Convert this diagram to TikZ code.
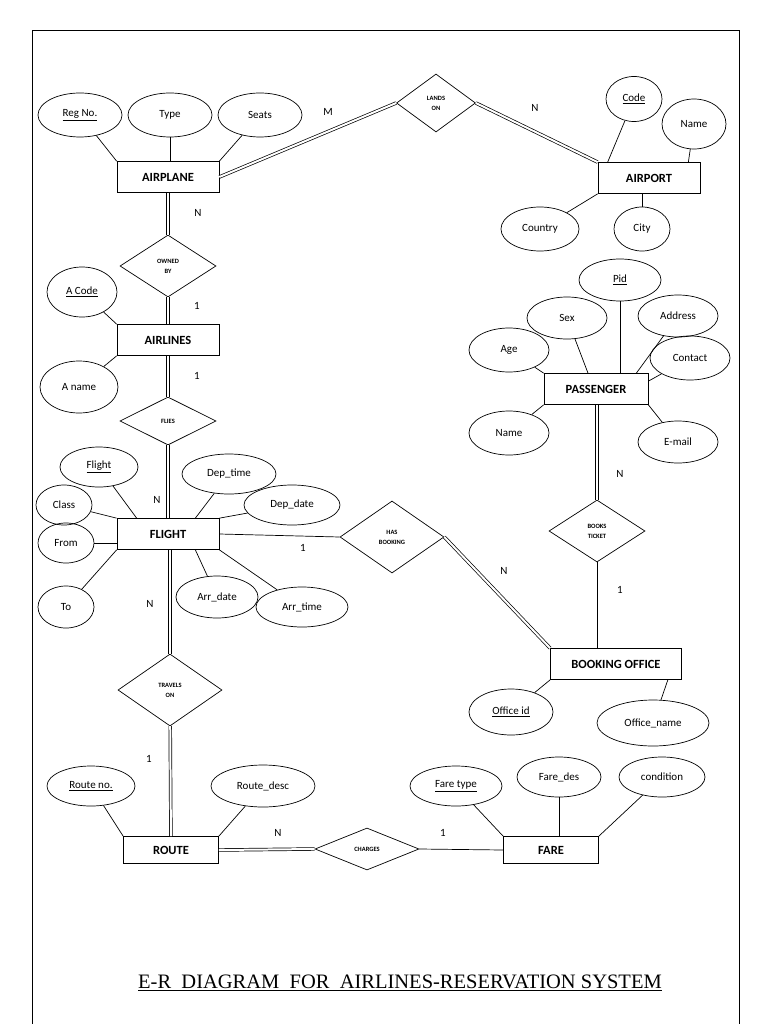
\documentclass[tikz,border=0pt]{standalone}
\usepackage{fontspec}
\setmainfont{Carlito}
\newfontfamily\titlefont{Liberation Serif}
\usetikzlibrary{shapes.geometric}
\tikzset{
 ent/.style={draw,rectangle,minimum width=#1,minimum height=31pt,inner sep=0,font=\bfseries\fontsize{12.5}{14}\selectfont},
 ent/.default=102pt,
 att/.style={draw,ellipse,inner sep=0,font=\fontsize{11}{12}\selectfont},
 rel/.style={draw,diamond,inner sep=0,align=center,font=\bfseries\fontsize{6.5}{10}\selectfont},
 dbl/.style={double,double distance=2pt},
 card/.style={font=\fontsize{11}{12}\selectfont}
}
\begin{document}
\begin{tikzpicture}[x=1pt,y=-1pt,line width=0.7pt]
\useasboundingbox (0,0) rectangle (768,1024);
\draw (32,1024) -- (32,30) -- (739,30) -- (739,1024);
% entities
\node[ent] (airplane) at (168,177) {AIRPLANE};
\node[ent] (airport) at (649,178) {AIRPORT};
\node[ent] (airlines) at (168,340) {AIRLINES};
\node[ent] (flight) at (168,534) {FLIGHT};
\node[ent=104pt] (passenger) at (596,389) {PASSENGER};
\node[ent=131pt] (office) at (616,664) {BOOKING OFFICE};
\node[ent=95pt,minimum height=27pt] (route) at (171,850) {ROUTE};
\node[ent=95pt,minimum height=27pt] (fare) at (551,850) {FARE};
% relationships
\node[rel,minimum width=79pt,minimum height=58pt] (lands) at (436,103) {LANDS\\ON};
\node[rel,minimum width=96pt,minimum height=62pt] (owned) at (168,266) {OWNED\\BY};
\node[rel,minimum width=96pt,minimum height=48pt] (flies) at (168,421) {FLIES};
\node[rel,minimum width=104pt,minimum height=72pt] (has) at (392,537) {HAS\\BOOKING};
\node[rel,minimum width=96pt,minimum height=62pt] (books) at (597,531) {BOOKS\\TICKET};
\node[rel,minimum width=104pt,minimum height=72pt] (travels) at (170,690) {TRAVELS\\ON};
\node[rel,minimum width=104pt,minimum height=42pt] (charges) at (367,849) {CHARGES};
% attributes
\node[att,minimum width=84pt,minimum height=44pt] (regno) at (80,115) {\underline{Reg No.}};
\node[att,minimum width=84pt,minimum height=44pt] (type) at (170,115) {Type};
\node[att,minimum width=84pt,minimum height=44pt] (seats) at (260,115) {Seats};
\node[att,minimum width=56pt,minimum height=45pt] (code) at (634,99) {\underline{Code}};
\node[att,minimum width=64pt,minimum height=50pt] (aname2) at (694,124) {Name};
\node[att,minimum width=78pt,minimum height=44pt] (country) at (540,229) {Country};
\node[att,minimum width=56pt,minimum height=44pt] (city) at (642,229) {City};
\node[att,minimum width=70pt,minimum height=50pt] (acode) at (82,292) {\underline{A Code}};
\node[att,minimum width=78pt,minimum height=52pt] (aname) at (79,387) {A name};
\node[att,minimum width=82pt,minimum height=42pt] (pid) at (620,280) {\underline{Pid}};
\node[att,minimum width=80pt,minimum height=42pt] (sex) at (567,318) {Sex};
\node[att,minimum width=80pt,minimum height=42pt] (address) at (678,316) {Address};
\node[att,minimum width=80pt,minimum height=44pt] (age) at (509,350) {Age};
\node[att,minimum width=80pt,minimum height=44pt] (contact) at (690,358) {Contact};
\node[att,minimum width=80pt,minimum height=44pt] (pname) at (509,433) {Name};
\node[att,minimum width=80pt,minimum height=42pt] (email) at (678,442) {E-mail};
\node[att,minimum width=78pt,minimum height=40pt] (fl) at (99,467) {\underline{Flight}};
\node[att,minimum width=94pt,minimum height=40pt] (deptime) at (229,474) {Dep\_time};
\node[att,minimum width=56pt,minimum height=40pt] (class) at (64,505) {Class};
\node[att,minimum width=96pt,minimum height=40pt] (depdate) at (292,505) {Dep\_date};
\node[att,minimum width=56pt,minimum height=40pt] (from) at (66,543) {From};
\node[att,minimum width=56pt,minimum height=42pt] (to) at (66,607) {To};
\node[att,minimum width=82pt,minimum height=42pt] (arrdate) at (217,597) {Arr\_date};
\node[att,minimum width=92pt,minimum height=40pt] (arrtime) at (302,607) {Arr\_time};
\node[att,minimum width=84pt,minimum height=46pt] (offid) at (511,712) {\underline{Office id}};
\node[att,minimum width=112pt,minimum height=46pt] (offname) at (653,723) {Office\_name};
\node[att,minimum width=88pt,minimum height=40pt] (routeno) at (91,786) {\underline{Route no.}};
\node[att,minimum width=104pt,minimum height=42pt] (routedesc) at (263,786) {Route\_desc};
\node[att,minimum width=92pt,minimum height=40pt] (faretype) at (456,786) {\underline{Fare type}};
\node[att,minimum width=84pt,minimum height=40pt] (faredes) at (559,777) {Fare\_des};
\node[att,minimum width=86pt,minimum height=40pt] (cond) at (662,777) {condition};
% attribute lines
\draw (regno) -- (airplane.north west);
\draw (type) -- (type|-airplane.north);
\draw (seats) -- (airplane.north east);
\draw (code) -- ([xshift=10pt]airport.north west);
\draw (aname2) -- ([xshift=-12pt]airport.north east);
\draw (country) -- (airport.south west);
\draw (city) -- (city|-airport.south);
\draw (acode) -- (airlines.north west);
\draw (aname) -- (airlines.south west);
\draw (pid) -- (pid|-passenger.north);
\draw (sex) -- ([xshift=-8pt]passenger.north);
\draw (address) -- ([xshift=-12pt]passenger.north east);
\draw (age) -- (passenger.north west);
\draw (contact) -- ([yshift=-8pt]passenger.north east);
\draw (pname) -- (passenger.south west);
\draw (email) -- (passenger.south east);
\draw (fl) -- ([xshift=20pt]flight.north west);
\draw (deptime) -- ([xshift=-24pt]flight.north east);
\draw (class) -- (flight.north west);
\draw (depdate) -- (flight.north east);
\draw (from) -- (from-|flight.west);
\draw (to) -- (flight.south west);
\draw (arrdate) -- ([xshift=-24pt]flight.south east);
\draw (arrtime) -- (flight.south east);
\draw (offid) -- (office.south west);
\draw (offname) -- ([xshift=-14pt]office.south east);
\draw (routeno) -- (route.north west);
\draw (routedesc) -- (route.north east);
\draw (faretype) -- (fare.north west);
\draw (faredes) -- (faredes|-fare.north);
\draw (cond) -- (fare.north east);
% relationship lines
\draw[dbl] (airplane.east) -- (lands.west);
\draw[dbl] (lands.east) -- (airport.north west);
\draw[dbl] (airplane) -- (owned);
\draw[dbl] (owned) -- (airlines);
\draw[dbl] (airlines) -- (flies);
\draw[dbl] (flies) -- (flight);
\draw[dbl] (flight.south-|travels) -- (travels);
\draw[dbl] (travels) -- (route);
\draw (flight.east) -- (has.west);
\draw[dbl] (has.east) -- (office.north west);
\draw[dbl] (passenger.south-|books) -- (books);
\draw (books) -- (books|-office.north);
\draw[dbl] (route.east) -- (charges.west);
\draw (charges.east) -- (fare.west);
% cardinalities
\node[card] (c1) at (328,112) {M};
\node[card] (c2) at (535,108) {N};
\node[card] (c3) at (198,213) {N};
\node[card] (c4) at (197,306) {1};
\node[card] (c5) at (197,376) {1};
\node[card] (c6) at (157,500) {N};
\node[card] (c7) at (303,548) {1};
\node[card] (c8) at (504,571) {N};
\node[card] (c9) at (620,474) {N};
\node[card] (c10) at (620,590) {1};
\node[card] (c11) at (150,604) {N};
\node[card] (c12) at (149,759) {1};
\node[card] (c13) at (278,833) {N};
\node[card] (c14) at (443,833) {1};
% title
\node[font=\titlefont\fontsize{20.5}{24}\selectfont] (title) at (400,983) {\underline{E-R\ \ DIAGRAM\ \ FOR\ \ AIRLINES-RESERVATION SYSTEM}};
\end{tikzpicture}
\end{document}
